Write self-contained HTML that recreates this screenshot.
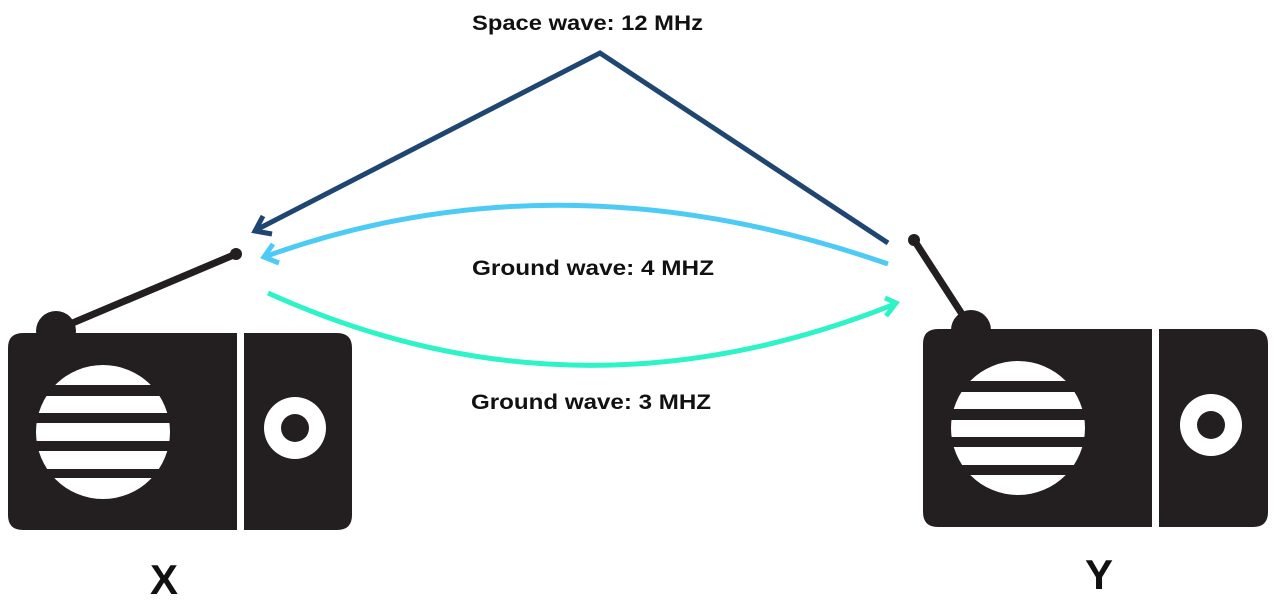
<!DOCTYPE html>
<html><head><meta charset="utf-8"><style>
html,body{margin:0;padding:0;background:#fff;}
svg{display:block;}
text{font-family:"Liberation Sans",sans-serif;font-weight:bold;fill:#111;}
</style></head><body>
<svg width="1280" height="613" viewBox="0 0 1280 613" xmlns="http://www.w3.org/2000/svg">
<!-- Left radio -->
<g fill="#231f20">
  <line x1="56" y1="330" x2="236" y2="254" stroke="#231f20" stroke-width="7" stroke-linecap="round"/>
  <circle cx="236" cy="254" r="6"/>
  <circle cx="56" cy="331" r="20"/>
  <path d="M23,333 H237 V530 H23 Q8,530 8,515 V348 Q8,333 23,333 Z"/>
  <path d="M244,333 H337 Q352,333 352,348 V515 Q352,530 337,530 H244 Z"/>
</g>
<g>
  <clipPath id="cl"><circle cx="103" cy="432" r="67"/></clipPath>
  <g clip-path="url(#cl)" fill="#fff">
    <rect x="30" y="360" width="150" height="25"/>
    <rect x="30" y="396" width="150" height="17"/>
    <rect x="30" y="423" width="150" height="18"/>
    <rect x="30" y="451" width="150" height="18"/>
    <rect x="30" y="478" width="150" height="25"/>
  </g>
  <circle cx="295" cy="428" r="31" fill="#fff"/>
  <circle cx="295" cy="428" r="14" fill="#231f20"/>
</g>
<!-- Right radio -->
<g fill="#231f20">
  <line x1="971" y1="328" x2="914" y2="240" stroke="#231f20" stroke-width="7" stroke-linecap="round"/>
  <circle cx="914" cy="240" r="6"/>
  <circle cx="971" cy="330" r="20"/>
  <path d="M938,329 H1152 V527 H938 Q923,527 923,512 V344 Q923,329 938,329 Z"/>
  <path d="M1159,329 H1253 Q1268,329 1268,344 V512 Q1268,527 1253,527 H1159 Z"/>
</g>
<g>
  <clipPath id="cr"><circle cx="1018" cy="428" r="67"/></clipPath>
  <g clip-path="url(#cr)" fill="#fff">
    <rect x="940" y="355" width="160" height="26"/>
    <rect x="940" y="392" width="160" height="17"/>
    <rect x="940" y="420" width="160" height="17"/>
    <rect x="940" y="447" width="160" height="18"/>
    <rect x="940" y="475" width="160" height="25"/>
  </g>
  <circle cx="1211" cy="425" r="31" fill="#fff"/>
  <circle cx="1211" cy="425" r="14" fill="#231f20"/>
</g>
<!-- Space wave -->
<polyline points="888,243 600,53 256,230" fill="none" stroke="#1f4571" stroke-width="5"/>
<polyline points="263,216 255,231 272,234" fill="none" stroke="#1f4571" stroke-width="5" stroke-linejoin="miter"/>
<!-- Ground wave 4 -->
<path d="M888,264 Q560,150 264,257" fill="none" stroke="#4dcbf5" stroke-width="5"/>
<polyline points="273,244 264,257 279,263" fill="none" stroke="#4dcbf5" stroke-width="5"/>
<!-- Ground wave 3 -->
<path d="M268,293 Q575,432 895,304" fill="none" stroke="#2df3c6" stroke-width="5"/>
<polyline points="885,298 896,303 886,316" fill="none" stroke="#2df3c6" stroke-width="5"/>
<!-- Labels -->
<text x="472" y="30" font-size="21" textLength="231" lengthAdjust="spacingAndGlyphs">Space wave: 12 MHz</text>
<text x="472" y="275" font-size="21" textLength="242" lengthAdjust="spacingAndGlyphs">Ground wave: 4 MHZ</text>
<text x="471" y="409" font-size="21" textLength="240" lengthAdjust="spacingAndGlyphs">Ground wave: 3 MHZ</text>
<text x="150" y="594" font-size="42">X</text>
<text x="1085" y="589" font-size="42">Y</text>
</svg>
</body></html>
